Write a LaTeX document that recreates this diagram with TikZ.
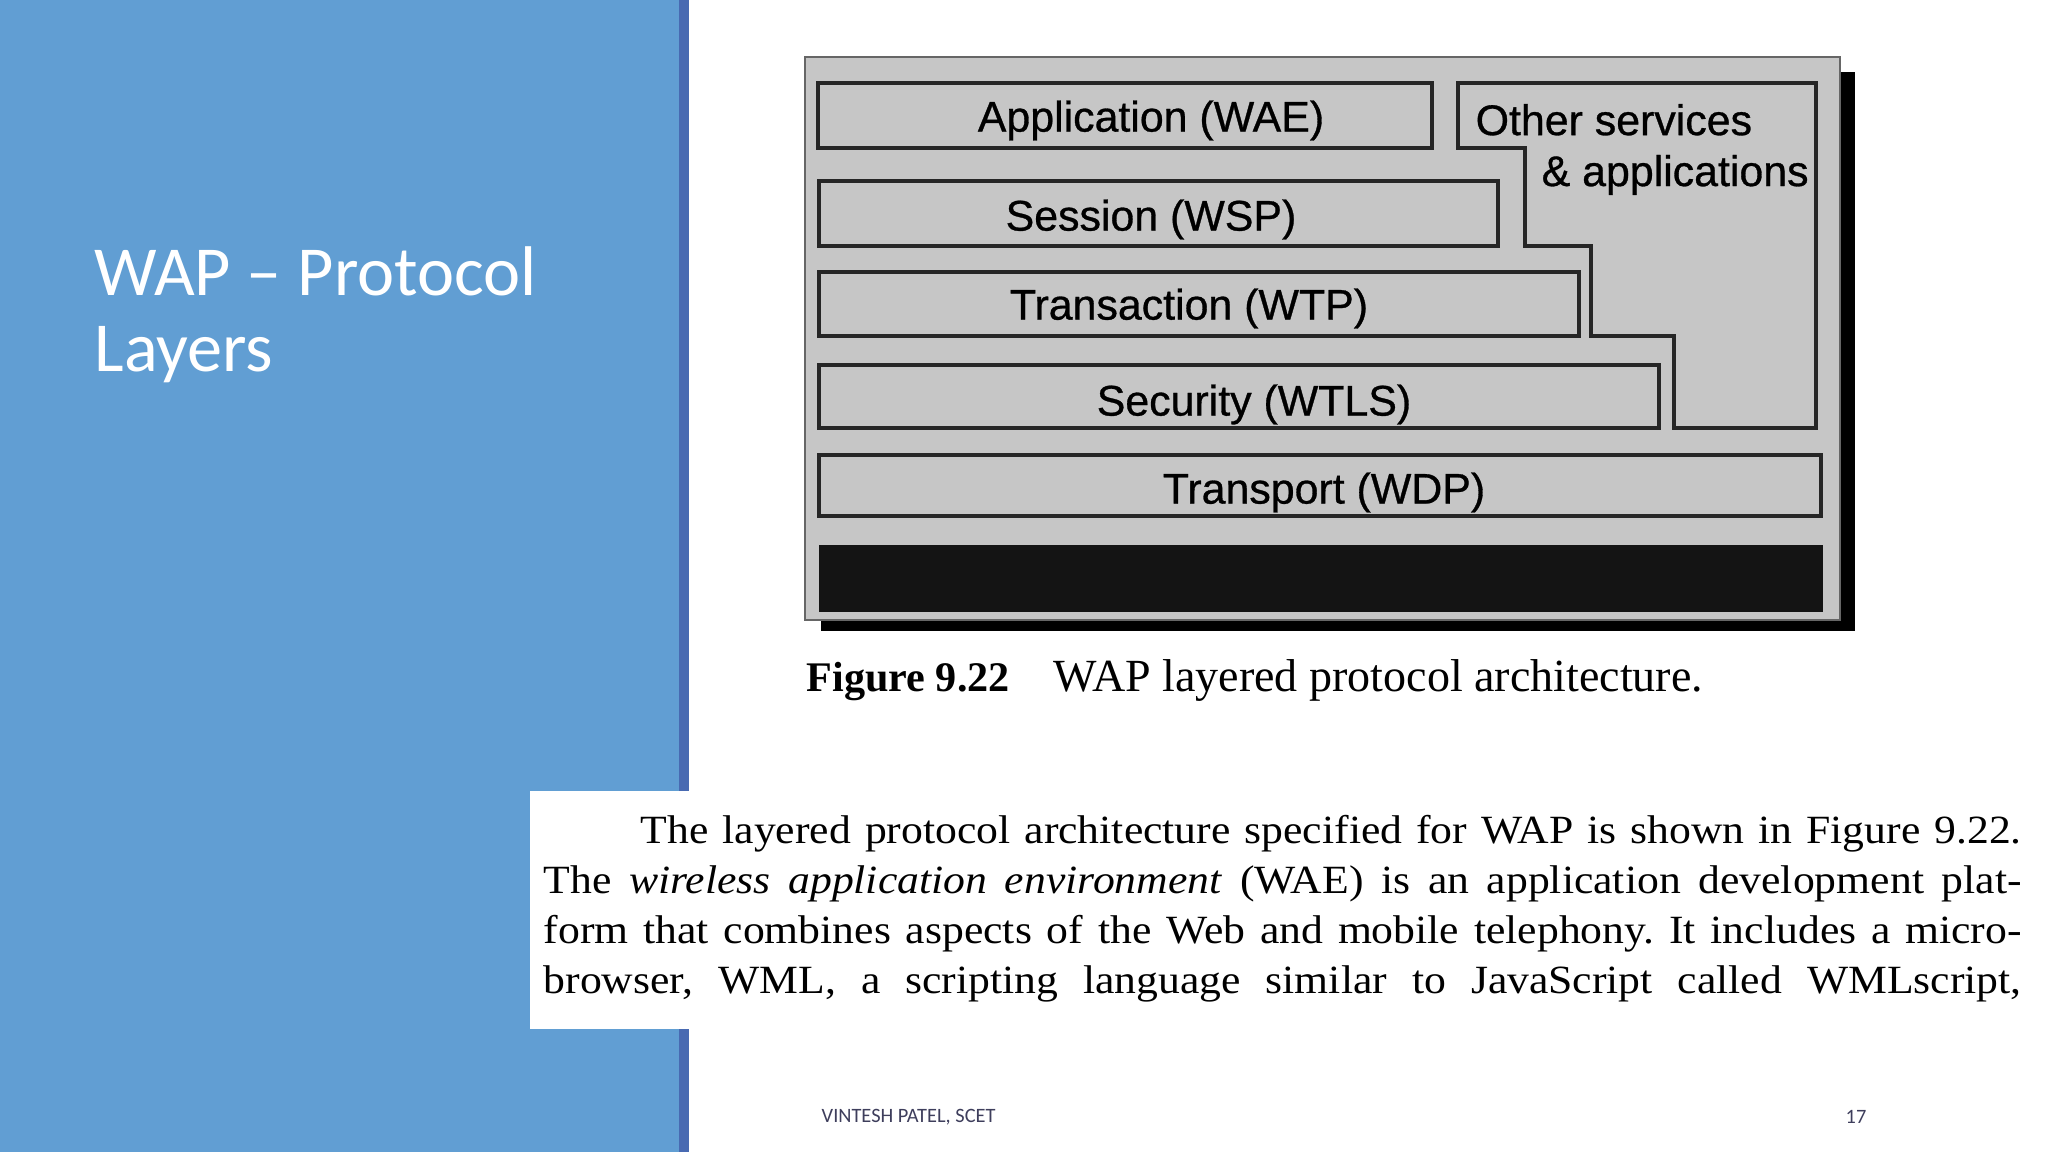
\documentclass[tikz,border=0pt]{standalone}
\usepackage{fontspec}
\setmainfont{Liberation Serif}
\newfontfamily\figfont[FakeBold=0.7]{Liberation Sans}
\newfontfamily\slidefont{Carlito}
\newfontfamily\bodyfont[FakeStretch=1.09]{Liberation Serif}
\usetikzlibrary{positioning, calc}
\definecolor{panelblue}{RGB}{97,158,211}
\definecolor{stripblue}{RGB}{72,106,178}
\definecolor{figgray}{RGB}{198,198,198}
\definecolor{footgray}{RGB}{62,62,92}
% mot dong van can deu hai le (align=left dat \spaceskip co dinh nen phai tra ve 0)
\newcommand{\bodyline}[1]{{\frenchspacing\spaceskip=0pt\xspaceskip=0pt\makebox[14.78cm][s]{#1}}}
\tikzset{
  % --- Khung hinh ----------------------------------------------
  figframe/.style={draw=black!60, line width=0.6pt, fill=figgray},
  figshadow/.style={fill=black},
  layerbox/.style={draw=black!85, line width=0.9pt, fill=figgray,
    inner sep=0pt},
  layerlab/.style={font=\figfont\fontsize{12.2}{14.5}\selectfont,
    inner sep=0pt},
  % --- Trang chieu ---------------------------------------------
  slidetitle/.style={font=\slidefont\fontsize{20}{21.6}\selectfont,
    text=white, align=left, inner sep=0pt},
  caption/.style={font=\fontsize{13.1}{15}\selectfont, inner sep=0pt},
  bodytext/.style={font=\bodyfont\fontsize{11.4}{14.2}\selectfont,
    text width=14.78cm, align=left, inner sep=0pt},
  footer/.style={font=\slidefont\fontsize{5.8}{7}\selectfont,
    text=footgray, inner sep=0pt}
}

\begin{document}
\begin{tikzpicture}[x=1cm, y=1cm]
  \useasboundingbox (0,0) rectangle (20.48,-11.52);

  % ---------- Nen trang chieu ----------
  \fill[white] (0,0) rectangle (20.48,-11.52);
  \fill[panelblue] (0,0) rectangle (6.79,-11.52);
  \fill[stripblue] (6.79,0) rectangle (6.89,-11.52);
  \node[slidetitle, anchor=north west] (title) at (0.94,-2.46)
    {WAP – Protocol\\Layers};

  % ---------- Hinh 9.22 ----------
  \fill[figshadow] (8.21,-0.72) rectangle (18.55,-6.31);
  \draw[figframe] (8.05,-0.57) rectangle (18.40,-6.20);

  \node[layerbox, minimum width=6.14cm, minimum height=0.65cm]
    (wae) at (11.25,-1.155) {};
  \node[layerbox, minimum width=6.79cm, minimum height=0.65cm]
    (wsp) at (11.585,-2.135) {};
  \node[layerbox, minimum width=7.60cm, minimum height=0.64cm]
    (wtp) at (11.99,-3.04) {};
  \node[layerbox, minimum width=8.40cm, minimum height=0.63cm]
    (wtls) at (12.39,-3.965) {};
  \node[layerbox, minimum width=10.02cm, minimum height=0.61cm]
    (wdp) at (13.20,-4.855) {};
  \node[fill=black!92, inner sep=0pt, minimum width=10.04cm,
    minimum height=0.67cm] (bearer) at (13.21,-5.785) {};

  % khoi "Other services" hinh bac thang
  \draw[layerbox] (14.58,-0.83) -- (18.16,-0.83) -- (18.16,-4.28)
    -- (16.74,-4.28) -- (16.74,-3.36) -- (15.91,-3.36) -- (15.91,-2.46)
    -- (15.25,-2.46) -- (15.25,-1.48) -- (14.58,-1.48) -- cycle;

  \node[layerlab] (waeT) at (11.51,-1.205) {Application (WAE)};
  \node[layerlab] (wspT) at (11.51,-2.195) {Session (WSP)};
  \node[layerlab] (wtpT) at (11.89,-3.085) {Transaction (WTP)};
  \node[layerlab] (wtlsT) at (12.54,-4.045) {Security (WTLS)};
  \node[layerlab] (wdpT) at (13.24,-4.925) {Transport (WDP)};
  \node[layerlab, align=left, anchor=west] (otherT) at (14.75,-1.495)
    {Other services\\\hspace*{0.66cm}\& applications};

  \node[caption, anchor=base west] (cap) at (8.06,-6.92)
    {{\fontsize{12.0}{15}\selectfont\textbf{Figure 9.22}}\hspace{0.44cm}WAP layered protocol architecture.};

  % ---------- Doan van ----------
  \node[fill=white, inner sep=0pt, minimum width=15.19cm,
    minimum height=2.38cm, anchor=north west] (textbg) at (5.29,-7.90) {};
  \node[bodytext, anchor=north west] (body) at (5.43,-8.15)
    {\bodyline{\hspace*{0.97cm}The layered protocol architecture specified for WAP is shown in Figure 9.22.}\\
     \bodyline{The \emph{wireless application environment} (WAE) is an application development plat-}\\
     \bodyline{form that combines aspects of the Web and mobile telephony. It includes a micro-}\\
     \bodyline{browser, WML, a scripting language similar to JavaScript called WMLscript,}};

  % ---------- Chan trang ----------
  \node[footer, anchor=west] (author) at (8.21,-11.17) {VINTESH PATEL, SCET};
  \node[footer] (pageno) at (18.56,-11.17) {17};

\end{tikzpicture}
\end{document}
